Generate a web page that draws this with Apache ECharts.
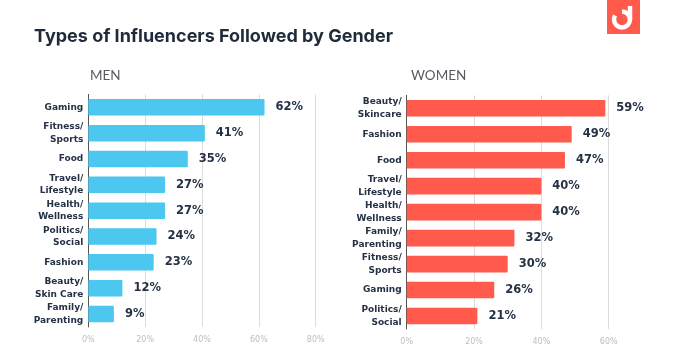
<!DOCTYPE html>
<html>
<head>
<meta charset="utf-8">
<style>
  html, body { margin: 0; padding: 0; background: #ffffff; }
  #chart { width: 675px; height: 361px; }
</style>
<script src="https://cdn.jsdelivr.net/npm/echarts@6/dist/echarts.min.js"></script>
</head>
<body>
<div id="chart"></div>
<script>
var menCategories = ['Gaming', 'Fitness/\nSports', 'Food', 'Travel/\nLifestyle', 'Health/\nWellness', 'Politics/\nSocial', 'Fashion', 'Beauty/\nSkin Care', 'Family/\nParenting'];
var menValues = [62, 41, 35, 27, 27, 24, 23, 12, 9];
var womenCategories = ['Beauty/\nSkincare', 'Fashion', 'Food', 'Travel/\nLifestyle', 'Health/\nWellness', 'Family/\nParenting', 'Fitness/\nSports', 'Gaming', 'Politics/\nSocial'];
var womenValues = [59, 49, 47, 40, 40, 32, 30, 26, 21];
var menTicks = [0, 20, 40, 60, 80];
var womenTicks = [0, 20, 40, 60];

var NAVY = '#253246';
var chart = echarts.init(document.getElementById('chart'), null, { renderer: 'canvas' });

function valueAxis(gridIndex, ticks) {
  return {
    type: 'value', gridIndex: gridIndex, min: ticks[0], max: ticks[ticks.length - 1], interval: ticks[1] - ticks[0],
    axisLine: { show: false }, axisTick: { show: false },
    splitLine: { show: true, lineStyle: { color: '#dcdcdc', width: 1 } },
    axisLabel: { formatter: '{value}%', color: '#bdbdbd', fontFamily: 'DejaVu Sans', fontSize: 8, margin: 9 }
  };
}
function catAxis(gridIndex, data) {
  return {
    type: 'category', gridIndex: gridIndex, data: data, inverse: true,
    axisLine: { show: true, lineStyle: { color: '#555555', width: 1 } },
    axisTick: { show: false },
    axisLabel: { color: NAVY, fontFamily: 'DejaVu Sans', fontWeight: 'bold', fontSize: 9, lineHeight: 12.5, margin: 5, align: 'right' }
  };
}
function barSeries(idx, data, color) {
  return {
    type: 'bar', xAxisIndex: idx, yAxisIndex: idx, data: data, barWidth: '64%',
    itemStyle: { color: color, borderRadius: 1 },
    label: { show: true, position: 'right', distance: 11, formatter: '{c}%', color: NAVY, fontFamily: 'DejaVu Sans', fontWeight: 'bold', fontSize: 11.5 },
    silent: true
  };
}

chart.setOption({
  animation: false,
  backgroundColor: '#ffffff',
  title: [
    { text: 'Types of Influencers Followed by Gender', left: 29, top: 23, textStyle: { fontFamily: 'Inter', fontWeight: 'bold', fontSize: 18, color: '#1f2a3a' } },
    { text: 'MEN', left: 85, top: 64, textStyle: { fontFamily: 'Lato', fontWeight: 'normal', fontSize: 13.5, color: '#5a5a64' } },
    { text: 'WOMEN', left: 406, top: 64, textStyle: { fontFamily: 'Lato', fontWeight: 'normal', fontSize: 13.5, color: '#5a5a64' } }
  ],
  grid: [
    { left: 88.3, top: 94.4, width: 227.4, height: 232.5 },
    { left: 406.7, top: 95.3, width: 202, height: 233.7 }
  ],
  xAxis: [valueAxis(0, menTicks), valueAxis(1, womenTicks)],
  yAxis: [catAxis(0, menCategories), catAxis(1, womenCategories)],
  series: [barSeries(0, menValues, '#4bc7f0'), barSeries(1, womenValues, '#ff5a4c')],
  graphic: [
    { type: 'rect', shape: { x: 607, y: 0, width: 33, height: 34 }, style: { fill: '#ff5a4c' } },
    { type: 'arc', shape: { cx: 622, cy: 19.5, r: 8, startAngle: -Math.PI / 2, endAngle: Math.PI * 7 / 6, clockwise: true }, style: { stroke: '#ffffff', lineWidth: 4.5, fill: null } },
    { type: 'line', shape: { x1: 630, y1: 6, x2: 630, y2: 19.5 }, style: { stroke: '#ffffff', lineWidth: 4.5 } }
  ]
});
</script>
</body>
</html>
